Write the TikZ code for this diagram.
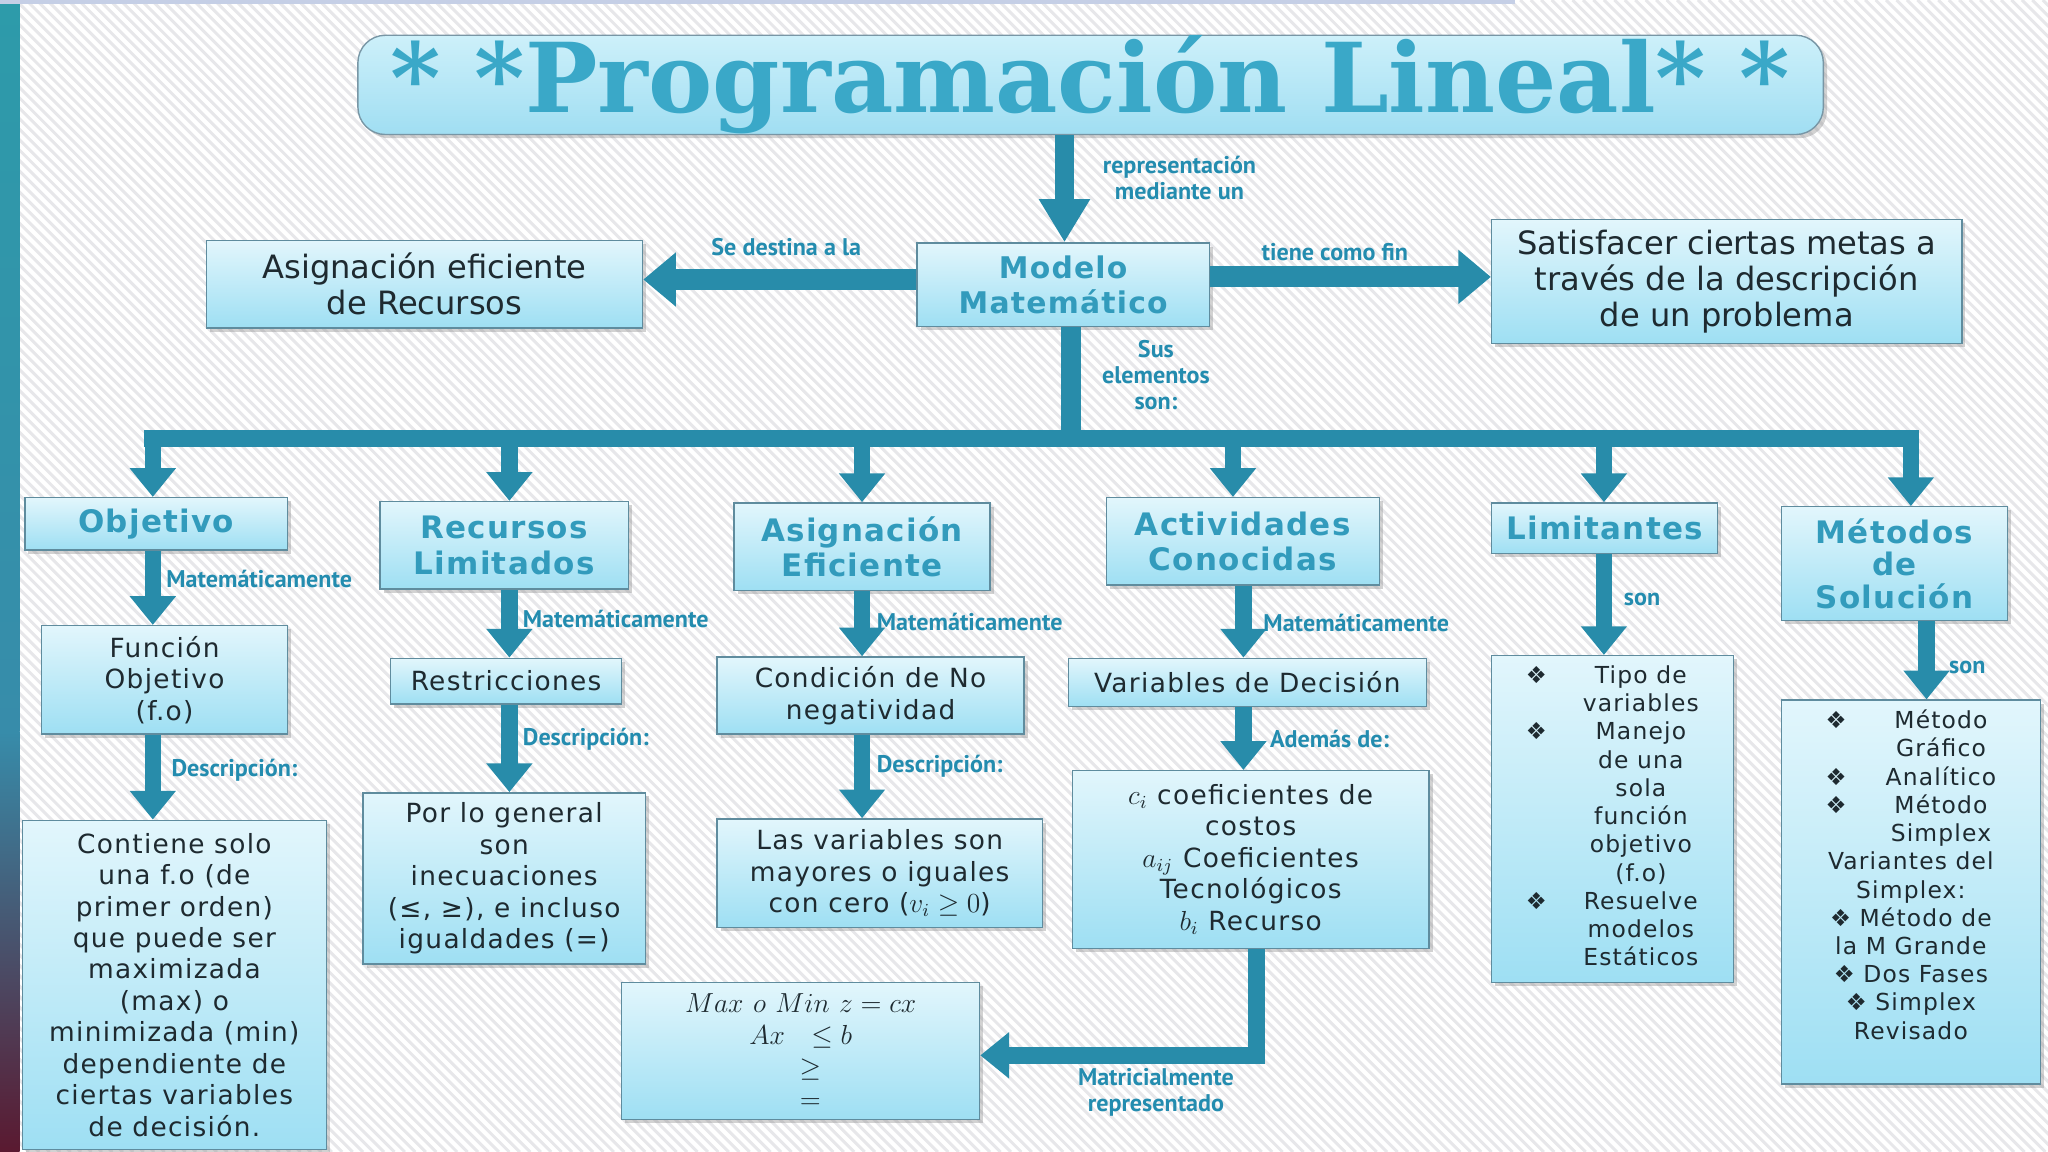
\documentclass[tikz,border=0pt]{standalone}
\usepackage{fontspec}
\setmainfont{DejaVu Sans}
\newfontfamily\bodyf{DejaVu Sans}[LetterSpace=5]
\newfontfamily\headf{DejaVu Sans}[LetterSpace=4]
\newfontfamily\labf{PT Sans}
\newfontfamily\titlef{DejaVu Serif}
\usetikzlibrary{arrows.meta,shadows,calc}
\definecolor{arrowc}{RGB}{40,140,170}
\definecolor{headc}{RGB}{50,155,188}
\definecolor{labc}{RGB}{35,140,175}
\definecolor{bodyc}{RGB}{30,42,48}
\definecolor{boxtop}{RGB}{226,246,252}
\definecolor{boxbot}{RGB}{158,223,243}
\definecolor{boxline}{RGB}{95,140,158}
\definecolor{stripe}{RGB}{231,231,234}
\definecolor{titlec}{RGB}{58,168,200}
\definecolor{titleline}{RGB}{120,150,165}
\definecolor{titletop}{RGB}{205,240,250}
\definecolor{titlebot}{RGB}{160,222,242}
\definecolor{bartop}{RGB}{45,155,170}
\definecolor{barmid}{RGB}{55,140,170}
\definecolor{barbot}{RGB}{90,25,48}
\definecolor{topstrip}{RGB}{197,207,230}
\tikzset{
  x={(0.02cm,0)}, y={(0,-0.02cm)},
  sz/.style 2 args={minimum width=#1*0.02cm, minimum height=#2*0.02cm},
  box/.style={draw=boxline, line width=0.6pt, top color=boxtop, bottom color=boxbot,
    inner sep=0pt, align=center, text=bodyc,
    drop shadow={shadow xshift=1.6pt,shadow yshift=-1.6pt,opacity=0.35}},
  upper/.style={font=\fontsize{14}{15.8}\selectfont},
  head/.style={font=\headf\bfseries\fontsize{13.5}{15.4}\selectfont, text=headc},
  body/.style={font=\bodyf\fontsize{11.5}{13.7}\selectfont},
  listf/.style={font=\bodyf\fontsize{10.2}{12.3}\selectfont},
  lab/.style={font=\labf\bfseries\fontsize{10.5}{11.4}\selectfont, text=labc, inner sep=0pt, align=center},
  arrbig/.style={draw=arrowc, line width=0.28cm, -{Triangle[width=0.74cm,length=0.66cm]}},
  arrside/.style={draw=arrowc, line width=0.32cm, -{Triangle[width=0.8cm,length=0.5cm]}},
  arrdrop/.style={draw=arrowc, line width=0.25cm, -{Triangle[width=0.68cm,length=0.44cm]}},
  barline/.style={draw=arrowc, line width=0.26cm, line cap=rect},
  trunk/.style={draw=arrowc, line width=0.32cm},
}
\begin{document}
\begin{tikzpicture}
\useasboundingbox (0,0) rectangle (1568,882);
% background
\fill[white] (0,0) rectangle (1568,882);
\begin{scope}
\clip (0,0) rectangle (1568,882);
\foreach \i in {-900,-892,...,1568} \draw[stripe, line width=1.3pt] (\i,0) -- (\i+882,882);
\end{scope}
\shade[top color=bartop, bottom color=barmid] (0,0) rectangle (15,560);
\shade[top color=barmid, bottom color=barbot] (0,560) rectangle (15,882);
\fill[topstrip] (0,0) rectangle (1160,3);

% title
\node[box, draw=titleline, rounded corners=12pt, top color=titletop, bottom color=titlebot,
  sz={1122}{76}, font=\titlef\bfseries\fontsize{42}{44}\selectfont, text=titlec] (title) at (835,65) {* *Programación Lineal* *};

% second row
\node[box, upper, sz={334}{67}] (asig) at (325,217.5) {Asignación eficiente\\de Recursos};
\node[box, head, font=\headf\bfseries\fontsize{13}{15.4}\selectfont, sz={224}{64}] (modelo) at (814,218) {Modelo\\Matemático};
\node[box, upper, sz={360}{95}] (satis) at (1322,215.5) {Satisfacer ciertas metas a\\través de la descripción\\de un problema};

% element headers
\node[box, head, sz={201}{40}] (obj) at (119.5,401) {Objetivo};
\node[box, head, sz={190}{67}] (rec) at (386,417.5) {Recursos\\Limitados};
\node[box, head, sz={196}{67}] (asef) at (660,418.5) {Asignación\\Eficiente};
\node[box, head, sz={209}{67}] (act) at (951.5,414.5) {Actividades\\Conocidas};
\node[box, head, sz={173}{39}] (lim) at (1228.5,404.5) {Limitantes};
\node[box, head, font=\headf\bfseries\fontsize{13.5}{14.2}\selectfont, sz={173}{87}] (met) at (1450.5,431.5) {Métodos\\de\\Solución};

% lower boxes
\node[box, body, sz={188}{83}] (fun) at (126,520.5) {Función\\Objetivo\\(f.o)};
\node[box, body, sz={233}{252}] (cont) at (133.5,754) {Contiene solo\\una f.o (de\\primer orden)\\que puede ser\\maximizada\\(max) o\\minimizada (min)\\dependiente de\\ciertas variables\\de decisión.};
\node[box, body, sz={177}{35}] (restr) at (387.5,521.5) {Restricciones};
\node[box, body, sz={216}{131}] (porlo) at (386,672.5) {Por lo general\\son\\inecuaciones\\(≤, ≥), e incluso\\igualdades (=)};
\node[box, body, sz={235}{59}] (cond) at (666.5,532.5) {Condición de No\\negatividad};
\node[box, body, sz={249}{83}] (lasvar) at (673.5,668.5) {Las variables son\\mayores o iguales\\con cero ($v_i \geq 0$)};
\node[box, body, sz={274}{37}] (vardec) at (955,522.5) {Variables de Decisión};
\node[box, body, sz={273}{136}] (coef) at (957.5,658) {$c_i$ coeficientes de\\costos\\$a_{ij}$ Coeficientes\\Tecnológicos\\$b_i$ Recurso};
\node[box, font=\fontsize{13}{14}\selectfont, sz={274}{105}] (maxb) at (613,804.5)
  {$Max\ o\ Min\ z = cx$\\$Ax\ \ \leq b$\\\hspace*{0.3cm}$\geq$\\\hspace*{0.3cm}$=$};
\node[box, listf, sz={185}{250}] (limlist) at (1234.5,627) {%
  \begin{tabular}{@{}l@{\hspace{0.55cm}}c@{}}
  ❖ & Tipo de\\ & variables\\ ❖ & Manejo\\ & de una\\ & sola\\ & función\\ & objetivo\\ & (f.o)\\
  ❖ & Resuelve\\ & modelos\\ & Estáticos
  \end{tabular}};
\node[box, listf, sz={198}{294}] (metlist) at (1463,683) {%
  \begin{tabular}{@{}l@{\hspace{0.6cm}}c@{}}
  ❖ & Método\\ & Gráfico\\ ❖ & Analítico\\ ❖ & Método\\ & Simplex\\
  \multicolumn{2}{@{}c@{}}{Variantes del}\\ \multicolumn{2}{@{}c@{}}{Simplex:}\\
  \multicolumn{2}{@{}c@{}}{❖ Método de}\\ \multicolumn{2}{@{}c@{}}{la M Grande}\\
  \multicolumn{2}{@{}c@{}}{❖ Dos Fases}\\ \multicolumn{2}{@{}c@{}}{❖ Simplex}\\
  \multicolumn{2}{@{}c@{}}{Revisado}\\[12pt]
  \end{tabular}};

% helper coordinates
\coordinate (k0) at (815,0);
\coordinate (k9) at (0,214);
\coordinate (k10) at (0,212);
\coordinate (tj) at (820,336);
\coordinate (j1) at (117,336);
\coordinate (j2) at (390,336);
\coordinate (j3) at (660,336);
\coordinate (j4) at (944,336);
\coordinate (j5) at (1228,336);
\coordinate (j6) at (1463,336);
\coordinate (k4) at (952,0);
\coordinate (k6) at (1475,0);
\coordinate (k7) at (962,0);
\coordinate (k8) at (0,808);

% connectors
\draw[arrbig] (title.south -| k0) -- (modelo.north -| k0);
\draw[arrside] (modelo.west |- k9) -- (asig.east |- k9);
\draw[arrside] (modelo.east |- k10) -- (satis.west |- k10);
\draw[trunk] (modelo.south -| tj) -- (tj);
\draw[barline] (j1) -- (j6);
\draw[arrdrop] (j1) -- (j1 |- obj.north);
\draw[arrdrop] (j2) -- (j2 |- rec.north);
\draw[arrdrop] (j3) -- (j3 |- asef.north);
\draw[arrdrop] (j4) -- (j4 |- act.north);
\draw[arrdrop] (j5) -- (j5 |- lim.north);
\draw[arrdrop] (j6) -- (j6 |- met.north);
\draw[arrdrop] (obj.south -| j1) -- (fun.north -| j1);
\draw[arrdrop] (fun.south -| j1) -- (cont.north -| j1);
\draw[arrdrop] (rec.south -| j2) -- (restr.north -| j2);
\draw[arrdrop] (restr.south -| j2) -- (porlo.north -| j2);
\draw[arrdrop] (asef.south -| j3) -- (cond.north -| j3);
\draw[arrdrop] (cond.south -| j3) -- (lasvar.north -| j3);
\draw[arrdrop] (act.south -| k4) -- (vardec.north -| k4);
\draw[arrdrop] (vardec.south -| k4) -- (coef.north -| k4);
\draw[arrdrop] (lim.south -| j5) -- (limlist.north -| j5);
\draw[arrdrop] (met.south -| k6) -- (metlist.north -| k6);
\draw[arrdrop, line join=miter] (coef.south -| k7) |- (maxb.east |- k8);

% connector labels
\node[lab] (l1) at (903,136) {representación\\mediante un};
\node[lab] (l2) at (602,189) {Se destina a la};
\node[lab] (l3) at (1022,193) {tiene como fin};
\node[lab] (l4) at (885,287) {Sus\\elementos\\son:};
\node[lab, anchor=west] (l5) at (127,443) {Matemáticamente};
\node[lab, anchor=west] (l6) at (131,590) {Descripción:};
\node[lab, anchor=west] (l7) at (400,474) {Matemáticamente};
\node[lab, anchor=west] (l8) at (400,566) {Descripción:};
\node[lab, anchor=west] (l9) at (671,476) {Matemáticamente};
\node[lab, anchor=west] (l10) at (671,587) {Descripción:};
\node[lab, anchor=west] (l11) at (967,477) {Matemáticamente};
\node[lab, anchor=west] (l12) at (972,566) {Además de:};
\node[lab, anchor=west] (l13) at (1243,459) {son};
\node[lab, anchor=west] (l14) at (1492,511) {son};
\node[lab] (l15) at (885,836) {Matricialmente\\representado};
\end{tikzpicture}
\end{document}
